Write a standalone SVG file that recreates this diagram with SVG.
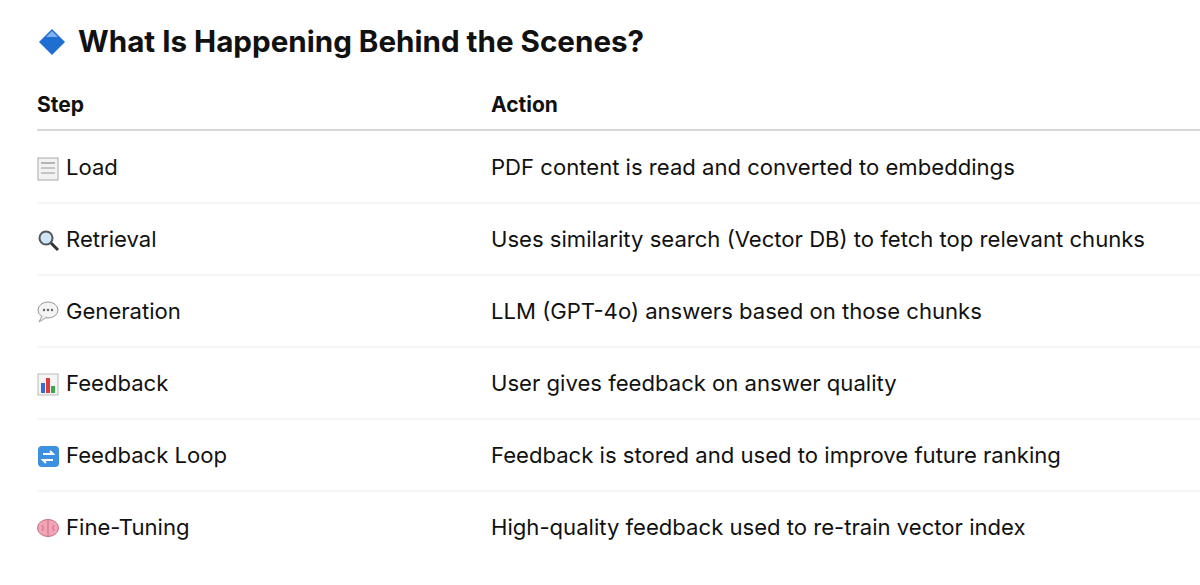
<svg xmlns="http://www.w3.org/2000/svg" width="1200" height="585" viewBox="0 0 1200 585">
<style>
text{font-family:"Inter","Liberation Sans",sans-serif;fill:#111}
.t{font-size:29.6px;font-weight:700}
.h{font-size:21px;font-weight:700}
.c{font-size:22.1px}
.sep{stroke:#ececec;stroke-width:1}
</style>
<rect width="1200" height="585" fill="#fff"/>
<polygon points="52,29 65,42 52,55 39,42" fill="#1f6fd1"/>
<polygon points="52,31 58,37 52,37 46,37" fill="#7fb3ef"/>
<text class="t" x="78" y="52">What Is Happening Behind the Scenes?</text>
<text class="h" x="37" y="112">Step</text>
<text class="h" x="491" y="112">Action</text>
<line x1="37" y1="130" x2="1200" y2="130" stroke="#d8d8d8" stroke-width="2"/>
<g class="sep"><line x1="37" y1="203" x2="1200" y2="203"/><line x1="37" y1="275" x2="1200" y2="275"/><line x1="37" y1="347" x2="1200" y2="347"/><line x1="37" y1="419" x2="1200" y2="419"/><line x1="37" y1="491" x2="1200" y2="491"/></g>
<g><rect x="38" y="158" width="20" height="22" fill="#f2f2f2" stroke="#aaa"/><line x1="41" y1="163" x2="55" y2="163" stroke="#777"/><line x1="41" y1="168" x2="55" y2="168" stroke="#999"/><line x1="41" y1="173" x2="55" y2="173" stroke="#999"/></g>
<g><circle cx="46" cy="238" r="6.5" fill="#cfe6f7" stroke="#555" stroke-width="2"/><line x1="51" y1="243" x2="58" y2="250" stroke="#333" stroke-width="3"/></g>
<g><ellipse cx="48" cy="310" rx="10" ry="8" fill="#f4f4f4" stroke="#999"/><path d="M42 316 L39 322 L47 317" fill="#f4f4f4" stroke="#999"/><circle cx="44" cy="310" r="1.2" fill="#666"/><circle cx="48" cy="310" r="1.2" fill="#666"/><circle cx="52" cy="310" r="1.2" fill="#666"/></g>
<g><rect x="38" y="374" width="20" height="21" fill="#f4f4f4" stroke="#bbb"/><rect x="41" y="383" width="4" height="10" fill="#2f6fd8"/><rect x="46" y="378" width="4" height="15" fill="#e23a3a"/><rect x="51" y="386" width="4" height="7" fill="#3aa84a"/></g>
<g><rect x="38" y="446" width="21" height="21" rx="4" fill="#3d8fe0"/><path d="M43 454 h10 l-3 -3 M53 460 h-10 l3 3" stroke="#fff" stroke-width="2" fill="none"/></g>
<g><ellipse cx="48" cy="528" rx="10.5" ry="8.5" fill="#f2a4b6" stroke="#c86b82"/><path d="M48 520 v16 M42 525 q3 3 0 6 M54 525 q-3 3 0 6" stroke="#c86b82" fill="none"/></g>
<g>
<text class="c" x="66" y="175">Load</text><text class="c" x="491" y="175">PDF content is read and converted to embeddings</text>
<text class="c" x="66" y="247">Retrieval</text><text class="c" x="491" y="247">Uses similarity search (Vector DB) to fetch top relevant chunks</text>
<text class="c" x="66" y="319">Generation</text><text class="c" x="491" y="319">LLM (GPT-4o) answers based on those chunks</text>
<text class="c" x="66" y="391">Feedback</text><text class="c" x="491" y="391">User gives feedback on answer quality</text>
<text class="c" x="66" y="463">Feedback Loop</text><text class="c" x="491" y="463">Feedback is stored and used to improve future ranking</text>
<text class="c" x="66" y="535">Fine-Tuning</text><text class="c" x="491" y="535">High-quality feedback used to re-train vector index</text>
</g>
</svg>
